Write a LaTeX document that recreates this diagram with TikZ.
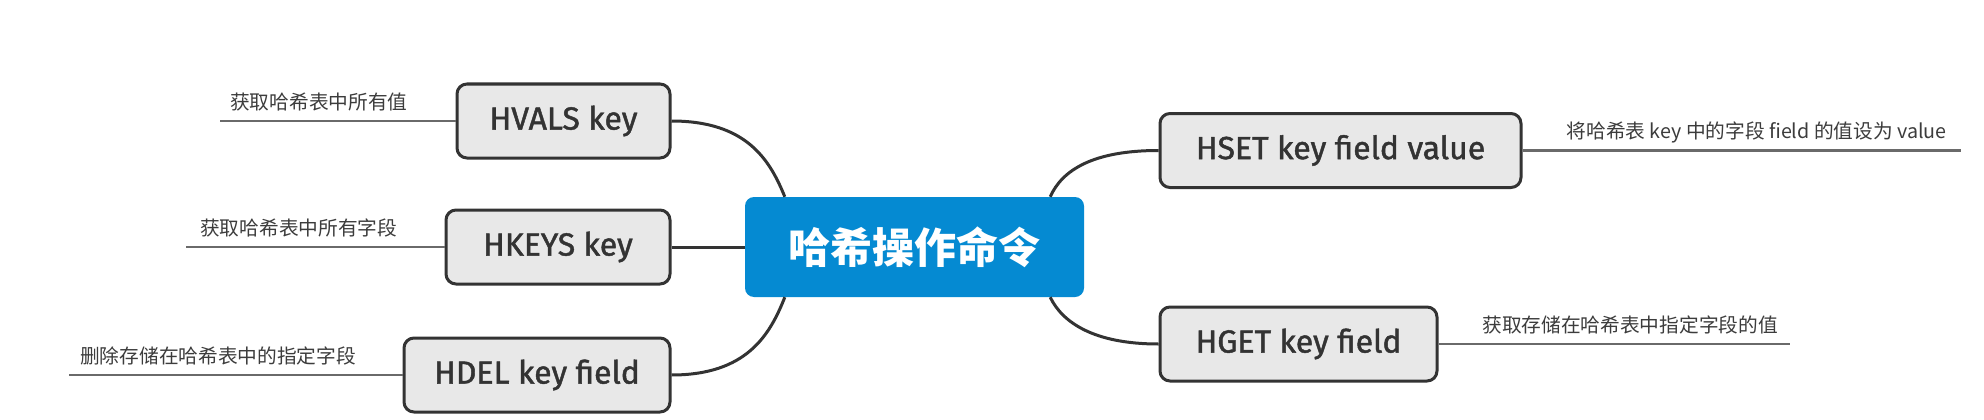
\documentclass[tikz,border=0pt]{standalone}
\usepackage{fontspec}
\setmainfont{Fira Sans}
\newfontfamily\cjk{Noto Sans CJK SC}
\newfontfamily\boxf[FakeBold=1.4]{Fira Sans}
\usetikzlibrary{calc}
\definecolor{edge}{HTML}{333333}
\definecolor{boxfill}{HTML}{E8E8E8}
\definecolor{topicblue}{HTML}{058AD2}
\definecolor{labgray}{HTML}{3C3C3C}
\definecolor{linegray}{HTML}{6A6A6A}
\tikzset{
  subbox/.style={draw=edge, line width=3pt, fill=boxfill, rounded corners=10pt,
    minimum height=74pt, inner sep=0pt, text=edge, font=\boxf\fontsize{32}{38}\selectfont},
  topic/.style={fill=topicblue, rounded corners=9pt, minimum width=339pt, minimum height=100pt,
    inner sep=0pt, text=white, font=\cjk\bfseries\fontsize{42}{50}\selectfont},
  conn/.style={draw=edge, line width=3pt},
  labline/.style={draw=linegray, line width=2.5pt},
  lab/.style={text=labgray, inner sep=0pt, font=\cjk\fontsize{19.7}{24}\selectfont}
}
\begin{document}
\begin{tikzpicture}[x=1pt, y=-1pt]
\useasboundingbox (0,0) rectangle (1984,420);
\fill[white] (0,0) rectangle (1984,420);

% nodes
\node[topic] (c) at (914.5,247) {哈希操作命令};
\node[subbox, minimum width=213pt] (hvals) at (563.5,121) {HVALS key};
\node[subbox, minimum width=224pt] (hkeys) at (558,247) {HKEYS key};
\node[subbox, minimum width=266pt] (hdel) at (537,375) {HDEL key field};
\node[subbox, minimum width=361pt] (hset) at (1340.5,150.5) {HSET key field value};
\node[subbox, minimum width=277pt] (hget) at (1298.5,344) {HGET key field};

% connectors
\draw[conn] (hvals.east) .. controls +(75,0) and +(-15,-37) .. ($(c.north west)+(40,0)$);
\draw[conn] (hkeys.east) -- (c.west);
\draw[conn] (hdel.east) .. controls +(75,0) and +(-15,38) .. ($(c.south west)+(40,0)$);
\draw[conn] ($(c.north east)+(-34,0)$) .. controls +(12,-27) and +(-65,0) .. (hset.west);
\draw[conn] ($(c.south east)+(-34,0)$) .. controls +(12,25) and +(-65,0) .. (hget.west);

% label lines
\coordinate (hvalsE) at (220,121);
\coordinate (hkeysE) at (186,247);
\coordinate (hdelE) at (69,375);
\coordinate (hsetE) at (1961,150.5);
\coordinate (hgetE) at (1790,344);
\draw[labline] (hvals.west) -- (hvalsE);
\draw[labline] (hkeys.west) -- (hkeysE);
\draw[labline] (hdel.west) -- (hdelE);
\draw[labline] (hset.east) -- (hsetE);
\draw[labline] (hget.east) -- (hgetE);

% labels
\node[lab, anchor=base west] (hvalsL) at (230,109) {获取哈希表中所有值};
\node[lab, anchor=base west] (hkeysL) at (200,235) {获取哈希表中所有字段};
\node[lab, anchor=base west] (hdelL) at (80,363) {删除存储在哈希表中的指定字段};
\node[lab, anchor=base east] (hsetL) at (1947,138) {将哈希表 key 中的字段 field 的值设为 value};
\node[lab, anchor=base east] (hgetL) at (1778,332) {获取存储在哈希表中指定字段的值};
\end{tikzpicture}
\end{document}
